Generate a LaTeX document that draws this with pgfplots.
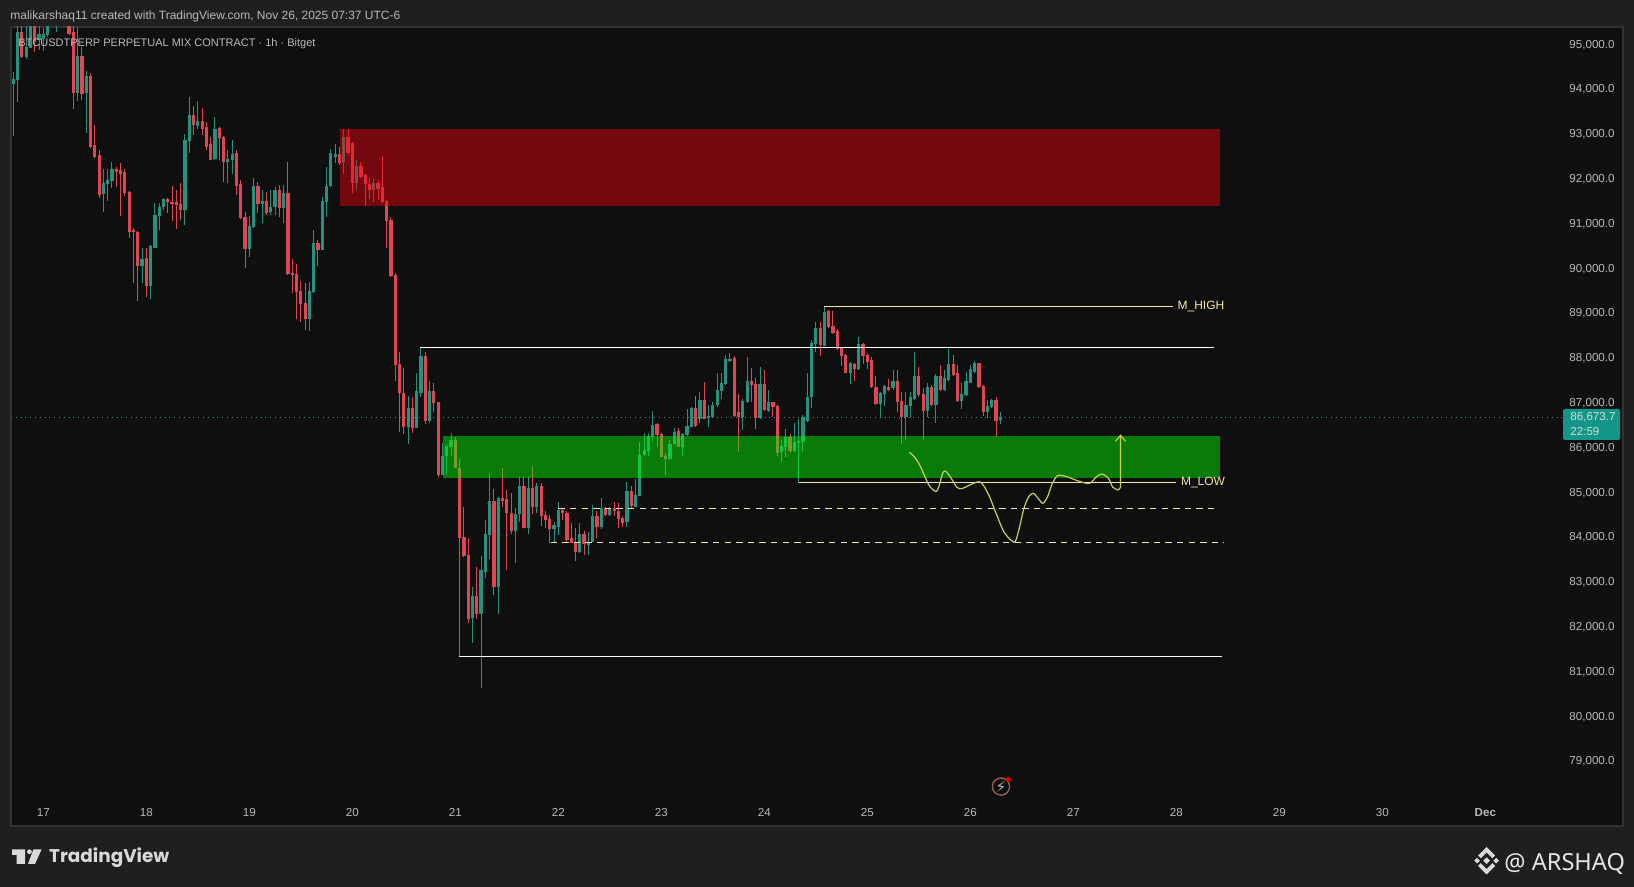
\documentclass[border=0pt]{standalone}
\usepackage{fontspec}
\setmainfont{Liberation Sans}
\newfontfamily\tvfont{Poppins}
\newfontfamily\wmfont{Noto Sans}
\newfontfamily\symfont{DejaVu Sans}
\usepackage{pgfplots}
\usepackage{pgfplotstable}
\pgfplotsset{compat=1.18}
\usetikzlibrary{arrows.meta}

\definecolor{outerbg}{RGB}{31,31,31}
\definecolor{plotbg}{RGB}{15,15,15}
\definecolor{frameline}{RGB}{50,50,50}
\definecolor{upc}{RGB}{38,145,125}
\definecolor{dnc}{RGB}{222,70,84}
\definecolor{zonered}{RGB}{240,0,15}
\definecolor{zonegreen}{RGB}{0,255,0}
\definecolor{tdraw}{RGB}{240,232,160}
\definecolor{curve}{RGB}{200,208,80}
\definecolor{ticktxt}{RGB}{185,185,185}
\definecolor{pricebox}{RGB}{18,150,135}

% hours since Nov 17 00:00, bot/top of body, high, low
\pgfplotstableread{
t o h l c
-7 94070 94330 92910 94180
-6 94150 95450 93670 95220
-4 94650 95400 94610 94890
-3 94870 95500 94850 95450
-1 95040 95400 94810 95180
0 95070 95300 94800 95180
1 95150 95550 95110 95500
3 95450 95700 95220 95600
4 95600 95900 95500 95800
8 93850 95320 93680 94680
10 93850 94350 92980 94240
14 91610 92180 91220 91850
15 91840 92180 91460 91930
16 91910 92330 91740 92180
23 90010 90410 89630 90160
25 89570 90480 89280 90460
26 90420 91410 90410 91150
27 91130 91410 90810 91330
28 91320 91520 91260 91500
33 91260 92940 90930 92810
34 92790 93760 92520 93380
36 93130 93680 93050 93240
40 92400 93330 92380 93070
43 92320 92590 91850 92390
44 92370 92810 92070 92500
48 90390 91130 90220 90910
49 90890 91980 90870 91790
51 91390 91700 90980 91460
53 91220 91700 91150 91320
54 91320 91780 91150 91700
56 91300 91810 90960 91640
62 88830 89670 88560 89460
63 89430 90810 89410 90520
65 90370 91540 90360 91470
66 91440 92220 91110 91800
67 91790 92610 91780 92520
68 92440 92730 92300 92500
70 92330 93070 92070 92890
73 91850 92370 91700 92240
77 91700 91940 91440 91870
85 86430 87130 86060 86870
87 86420 87630 86410 87240
88 87200 88190 87110 88020
90 86560 87450 86520 87240
93 85370 86090 85370 85790
94 85790 86070 85390 86020
95 86000 86300 85790 86150
100 82190 82890 81630 82680
102 82280 83560 80630 83250
103 83220 84370 83080 84060
104 84040 85420 83500 84790
106 82880 84890 82280 84870
110 84130 84630 83410 84500
111 84500 85330 84320 85130
113 84200 85330 84070 85090
115 84650 85190 84530 85130
119 84170 84330 83850 84250
120 84220 84780 84040 84590
125 83650 84300 83630 84050
127 83820 84110 83590 83890
128 83890 84700 83890 84450
130 84210 84870 84160 84630
132 84480 84650 84450 84610
136 84330 85220 84220 85020
138 84670 85280 84650 84930
139 84910 86110 84910 85820
140 85820 86310 85790 85930
141 85910 86300 85790 86240
142 86220 86800 86110 86480
146 85720 86150 85700 86070
147 86050 86410 86040 86330
149 86000 86300 85790 86280
150 86260 86830 86240 86460
151 86440 86890 86430 86870
153 86610 87220 86520 87040
155 86630 86930 86430 86680
156 86650 87000 86630 86930
157 86930 87630 86890 87260
158 87240 87630 87070 87420
159 87390 88040 87370 87940
160 87910 88090 87890 87940
163 86650 87050 86360 87020
164 87000 88000 86960 87460
167 86630 87760 86610 87390
169 86800 87270 86780 87000
172 85880 86150 85670 86010
173 86000 86390 85780 86220
175 85910 86530 85890 86110
176 86090 86610 85200 86130
177 86110 86700 85890 86670
178 86560 87640 86540 87110
179 87100 88370 86870 88300
180 88280 88760 88110 88640
182 88240 89100 88240 89000
188 87630 87890 87390 87870
190 87720 88440 87700 88280
195 86950 87220 86650 87190
196 87160 87370 86900 87350
198 87300 87700 87270 87470
201 86650 87220 86150 86930
202 86900 87220 86650 87100
203 87050 88110 87040 87570
206 86800 87410 86670 87320
208 86930 87610 86520 87570
210 87260 87700 87240 87520
211 87480 88160 87470 87840
214 87020 87410 86830 87170
215 87150 87670 87130 87470
216 87420 87810 87410 87720
217 87670 87910 87640 87870
220 86780 87040 86630 86900
221 86890 87050 86870 87040
223 86590 86780 86500 86670
}\upc

\pgfplotstableread{
t o h l c
-5 95220 95400 94630 94650
-2 95400 95500 94780 95000
2 95700 95800 95350 95500
5 95900 95950 95500 95650
6 95700 95800 95150 95180
7 95220 95400 93500 93850
9 94680 94890 93700 93840
11 94240 94310 92630 92670
12 92700 93150 92410 92440
13 92480 92590 91520 91590
17 92180 92220 91780 92110
18 92150 92300 91130 92070
19 92110 92180 91560 91630
20 91670 91690 90630 90780
21 90810 90850 89630 90760
22 90780 90790 89240 90010
24 90190 90410 89320 89570
29 91500 91520 91190 91430
30 91440 91800 91010 91390
31 91430 91700 90840 91370
32 91390 91850 91040 91260
35 93380 93570 92930 93150
37 93240 93520 92930 93070
38 93110 93220 92590 92670
39 92720 92890 92370 92380
41 93090 93110 92380 92850
42 92890 92900 91890 92320
45 92530 92590 91590 91790
46 91830 91930 91070 91090
47 91110 91220 89960 90390
50 91790 91890 91190 91390
52 91460 91670 91150 91190
55 91700 91810 91110 91300
57 91640 92320 89810 89840
58 89870 90160 89410 89810
59 89840 90070 88830 89430
60 89460 89690 88780 89170
61 89200 89630 88590 88830
64 90520 90590 90010 90370
69 92500 92670 92260 92310
71 92890 93070 92480 92520
72 92740 92760 91630 91870
74 92240 92330 91960 92000
75 92040 92070 91350 91830
76 91840 91960 91500 91700
78 91870 91910 91480 91730
79 91760 92460 91410 91440
80 91460 91480 90410 91020
81 91040 91110 89780 89790
82 89810 89870 87470 87820
83 87830 88110 86330 87190
84 87190 87740 86280 86430
86 86870 87110 86310 86420
89 88020 88110 86500 86560
91 87240 87410 86760 86960
92 87000 87000 85320 85370
96 86150 86220 85520 85530
97 85530 85720 81340 83980
98 84000 84650 83540 83570
99 83590 83960 82090 82160
101 82680 83330 82170 82280
105 84790 85050 82700 82880
107 84870 85530 84670 84800
108 84840 85040 83250 84520
109 84520 84960 84070 84130
112 85130 85330 84190 84200
114 85090 85570 84500 84670
116 85130 85190 84240 84460
117 84480 84560 84190 84370
118 84390 84480 83850 84170
121 84590 84630 84370 84520
122 84520 84560 83890 83930
123 83960 84300 83850 83870
124 83890 84190 83470 83670
126 84070 84130 83590 83840
129 84450 84560 83960 84220
131 84630 84670 84450 84480
133 84630 84760 84450 84560
134 84560 84740 84190 84390
135 84420 84450 84210 84310
137 85020 85130 84620 84680
143 86500 86520 85990 86260
144 86280 86300 85760 85780
145 85800 85850 85360 85720
148 86350 86410 85990 86000
152 86870 87130 86430 86460
154 87040 87440 86610 86620
161 87960 88010 86650 86680
162 86770 87170 85890 86670
165 87470 87740 87000 87370
166 87390 87520 86390 86630
168 87390 87700 86800 86810
170 86990 87000 86650 86890
171 86900 86930 85790 85870
174 86220 86280 85850 85910
181 88640 88780 88010 88260
183 89020 89040 88630 88650
184 88680 89020 88500 88520
185 88560 88610 88150 88160
186 88210 88210 87790 88010
187 88040 88070 87630 87630
189 87840 87870 87470 87720
191 88280 88300 87840 88010
192 88040 88090 87720 87890
193 87930 88000 87300 87320
194 87330 87560 86930 86950
197 87330 87500 87240 87270
199 87470 87700 86760 87000
200 87020 87220 86060 86650
204 87570 87780 87110 87150
205 87170 87300 86150 86800
207 87330 87370 86900 86930
209 87570 87810 87240 87260
212 87840 88040 87570 87590
213 87640 87810 87000 87020
218 87870 87870 87300 87320
219 87350 87370 86680 86780
222 87040 87110 86220 86560
}\dnc

\pgfplotstableread{
t p
201.8 85875
202.9 85779
204.2 85594
205.6 85297
206.7 85097
208.1 85008
208.9 85186
209.6 85423
210.3 85453
211.4 85320
212.9 85097
214.0 85068
215.4 85127
217.6 85216
218.7 85186
220.3 84927
222.0 84520
223.8 84112
225.6 83912
226.5 83897
227.4 84186
228.5 84631
229.6 84890
230.7 84964
231.8 84853
232.9 84742
234.0 84890
235.1 85186
236.2 85349
237.2 85364
238.9 85320
241.6 85223
243.8 85186
245.4 85334
246.7 85394
248.2 85297
249.2 85097
250.5 85038
}\scenario

\begin{document}
\begin{tikzpicture}[x=1pt,y=1pt]
% page is 817 x 443.5 pt, so 1 px of the reference = 0.5 pt
\fill[outerbg] (0,0) rectangle (817,443.5);
\begin{axis}[
	at={(5.5pt,30.5pt)}, anchor=south west,
	scale only axis,
	width=806pt, height=399.5pt,
	xmin=-7.53, xmax=368.08,
	ymin=77571, ymax=95327,
	axis background/.style={fill=plotbg},
	axis line style={frameline, line width=0.8pt},
	major tick length=0pt,
	xtick={0,24,...,336},
	xticklabels={17,18,19,20,21,22,23,24,25,26,27,28,29,30,\textbf{Dec}},
	% prices were read at 45 px per 1000, labels sit at 44.8 px per 1000
	ytick={79000,79996,80991,81987,82982,83978,84974,85969,86965,87960,88956,89952,90947,91943,92938,93934,94930},
	yticklabels={{79,000.0},{80,000.0},{81,000.0},{82,000.0},{83,000.0},{84,000.0},{85,000.0},{86,000.0},{87,000.0},{88,000.0},{89,000.0},{90,000.0},{91,000.0},{92,000.0},{93,000.0},{94,000.0},{95,000.0}},
	yticklabel pos=right,
	scaled y ticks=false,
	x tick label style={font=\fontsize{5.8}{6}\selectfont, text=ticktxt, anchor=center, yshift=6.8pt, inner sep=0pt},
	y tick label style={font=\fontsize{5.8}{6}\selectfont, text=ticktxt, anchor=east, xshift=-4pt, inner sep=0pt},
	clip=true,
]
% last price line
\addplot[forget plot, dotted, color=upc!70!gray, line width=0.4pt] coordinates {(-7.53,86645) (368.08,86645)};

% wicks
\addplot[forget plot, draw=none, mark=none, error bars/.cd, y dir=plus, y explicit, error mark=none,
	error bar style={color=upc, line width=0.5pt}]
	table[x=t, y=l, y error plus expr={\thisrow{h}-\thisrow{l}}] {\upc};
\addplot[forget plot, draw=none, mark=none, error bars/.cd, y dir=plus, y explicit, error mark=none,
	error bar style={color=dnc, line width=0.5pt}]
	table[x=t, y=l, y error plus expr={\thisrow{h}-\thisrow{l}}] {\dnc};
% bodies
\addplot[forget plot, draw=none, mark=none, error bars/.cd, y dir=plus, y explicit, error mark=none,
	error bar style={color=upc, line width=1.6pt}]
	table[x=t, y=o, y error plus expr={\thisrow{c}-\thisrow{o}}] {\upc};
\addplot[forget plot, draw=none, mark=none, error bars/.cd, y dir=plus, y explicit, error mark=none,
	error bar style={color=dnc, line width=1.6pt}]
	table[x=t, y=c, y error plus expr={\thisrow{o}-\thisrow{c}}] {\dnc};

% zones
\addplot[forget plot, draw=none, fill=zonered, fill opacity=0.45] coordinates {(69.1,91350) (274.1,91350) (274.1,93060) (69.1,93060)} -- cycle;
\addplot[forget plot, draw=none, fill=zonegreen, fill opacity=0.45] coordinates {(93.1,85310) (274.1,85310) (274.1,86240) (93.1,86240)} -- cycle;

% levels
\addplot[forget plot, white, line width=0.5pt] coordinates {(87.8,88207) (272.8,88207)};
\addplot[forget plot, white, line width=0.5pt] coordinates {(96.9,81341) (274.7,81341)};
\addplot[forget plot, tdraw, line width=0.5pt] coordinates {(182,89126) (263.3,89126)};
\addplot[forget plot, tdraw, line width=0.5pt] coordinates {(176.1,85207) (263.9,85207)};
\addplot[forget plot, tdraw, line width=0.5pt, dash pattern=on 3.2pt off 2.6pt] coordinates {(120,84630) (274,84630)};
\addplot[forget plot, tdraw, line width=0.5pt, dash pattern=on 3.2pt off 2.6pt] coordinates {(118.2,83860) (275,83860)};

% sketched path and arrow
\addplot[forget plot, curve, line width=0.6pt, smooth, tension=0.5] table[x=t, y=p] {\scenario};
\addplot[forget plot, curve, line width=0.6pt, -{Straight Barb[length=3pt,width=5pt]}] coordinates {(250.5,85038) (251,85097) (251,86275)};

\node[tdraw, font=\fontsize{6}{7}\selectfont, anchor=west, inner sep=0pt] at (axis cs:264.2,89120) {M\_HIGH};
\node[tdraw, font=\fontsize{6}{7}\selectfont, anchor=west, inner sep=0pt] at (axis cs:265,85210) {M\_LOW};
\end{axis}

% header, legend line, watermark
\node[anchor=west, inner sep=0pt, text=ticktxt, font=\fontsize{6}{7}\selectfont] at (5,435.2) {malikarshaq11 created with TradingView.com, Nov 26, 2025 07:37 UTC-6};
\node[anchor=west, inner sep=0pt, text=ticktxt, font=\fontsize{5.5}{7}\selectfont] at (9,421.8) {BTCUSDTPERP PERPETUAL MIX CONTRACT · 1h · Bitget};

% current price tag
\fill[pricebox, rounded corners=0.8pt] (781.5,239) rectangle (810,223.5);
\node[anchor=west, inner sep=0pt, text=white!85!black, font=\fontsize{5.8}{7}\selectfont] at (785,235) {86,673.7};
\node[anchor=west, inner sep=0pt, text=white!85!black, font=\fontsize{5.8}{7}\selectfont] at (785,227.5) {22:59};

% replay icon
\draw[ticktxt!70!red!70!black, line width=0.7pt] (500.5,50.2) circle (4.3pt);
\node[inner sep=0pt, text=ticktxt, font=\symfont\fontsize{7.5}{8}\selectfont] at (500.5,50.2) {⚡};
\fill[red!85!black] (504.2,53.8) circle (1.3pt);

% TradingView logo
\fill[white!85!black] (6,18.8) -- (12.5,18.8) -- (12.5,11.5) -- (8.3,11.5) -- (8.3,16) -- (6,16) -- cycle;
\fill[white!85!black] (14.7,17.6) circle (1.2pt);
\fill[white!85!black] (16.7,18.8) -- (20.8,18.8) -- (17.5,11.5) -- (14,11.5) -- cycle;
\node[anchor=base west, inner sep=0pt, text=white!85!black, font=\tvfont\bfseries\fontsize{9.2}{10}\selectfont] at (24.4,12) {TradingView};

% Binance mark and handle
\fill[white!85!black] (743.3,14.85) -- (745,13.15) -- (743.3,11.45) -- (741.6,13.15) -- cycle;
\fill[white!85!black] (738.5,14.55) -- (739.9,13.15) -- (738.5,11.75) -- (737.1,13.15) -- cycle;
\fill[white!85!black] (748.1,14.55) -- (749.5,13.15) -- (748.1,11.75) -- (746.7,13.15) -- cycle;
\fill[white!85!black] (743.3,20) -- (747.6,15.75) -- (746.2,14.35) -- (743.3,17.25) -- (740.4,14.35) -- (739,15.75) -- cycle;
\fill[white!85!black] (743.3,6.3) -- (747.6,10.55) -- (746.2,11.95) -- (743.3,9.05) -- (740.4,11.95) -- (739,10.55) -- cycle;
\node[anchor=base east, inner sep=0pt, text=white!90!black, font=\wmfont\fontsize{11.8}{14}\selectfont] at (812.7,8.2) {@ ARSHAQ};
\end{tikzpicture}
\end{document}
